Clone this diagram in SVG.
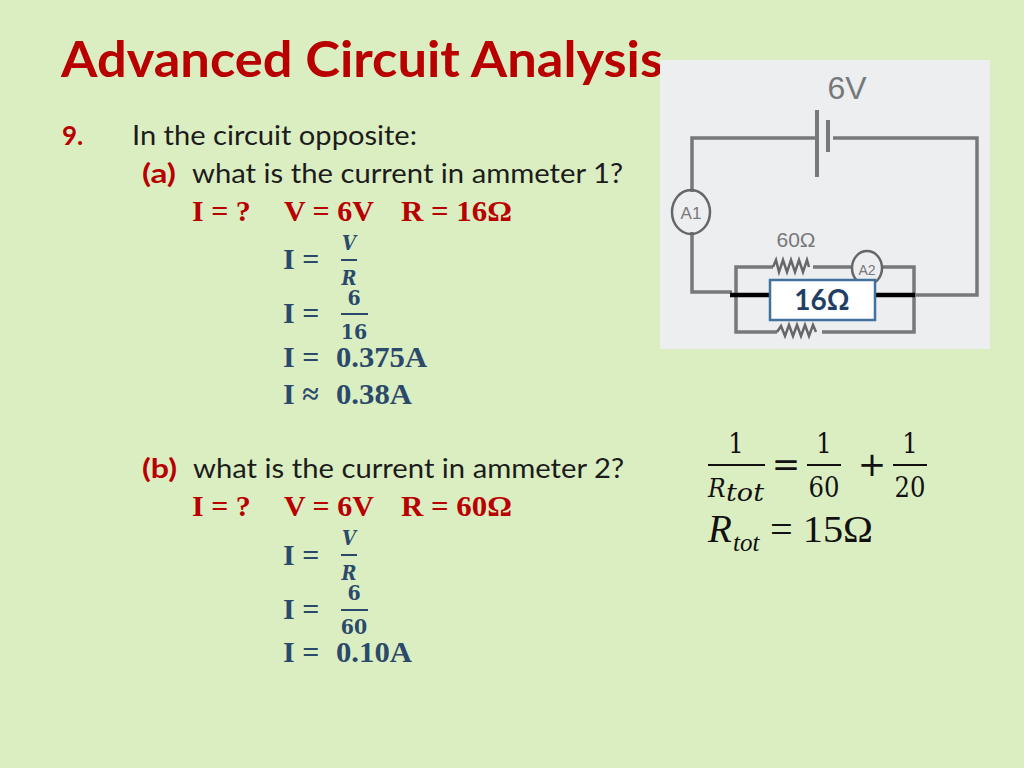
<svg xmlns="http://www.w3.org/2000/svg" width="1024" height="768" viewBox="0 0 1024 768">
<style>
.title{font:bold 49px Lato,"Liberation Sans",sans-serif;fill:#b90000}
.body{font:27px Lato,"Liberation Sans",sans-serif;fill:#1c1c1c}
.lab{font:bold 26px Lato,"Liberation Sans",sans-serif;fill:#b90000}
.red{font:bold 30px "Liberation Serif",serif;fill:#b90000}
.blue{font:bold 30px "Liberation Serif",serif;fill:#2b4a6b}
.frac{font:bold 21px "DejaVu Serif Condensed","DejaVu Serif",serif;fill:#2b4a6b;text-anchor:middle}
.fraci{font:italic bold 20px "DejaVu Serif Condensed","DejaVu Serif",serif;fill:#2b4a6b;text-anchor:middle}
.fl{stroke:#2b4a6b;stroke-width:2}
.k{fill:#111}
.m{font:27px "DejaVu Serif Condensed","DejaVu Serif",serif;text-anchor:middle}
.kl{stroke:#111;stroke-width:2}
.w{fill:none;stroke:#77787a;stroke-width:3.5}
.hand{font-family:"Liberation Sans",sans-serif;fill:#77787a;text-anchor:middle}
.ring{fill:none;stroke:#66676a;stroke-width:2.5}
</style>
<rect width="1024" height="768" fill="#dbeec2"/>
<text class="title" x="61" y="77" textLength="602" lengthAdjust="spacingAndGlyphs">Advanced Circuit Analysis</text>
<g id="question">
<text class="lab" x="62" y="145">9.</text>
<text class="body" x="132" y="145" textLength="285" lengthAdjust="spacingAndGlyphs">In the circuit opposite:</text>
<text class="lab" x="142" y="183" textLength="34" lengthAdjust="spacingAndGlyphs">(a)</text>
<text class="body" x="192" y="183" textLength="431" lengthAdjust="spacingAndGlyphs">what is the current in ammeter 1?</text>
<text class="lab" x="142" y="478" textLength="35" lengthAdjust="spacingAndGlyphs">(b)</text>
<text class="body" x="193" y="478" textLength="431" lengthAdjust="spacingAndGlyphs">what is the current in ammeter 2?</text>
</g>
<g id="part-a">
<text class="red" x="192" y="221">I = ?</text>
<text class="red" x="284" y="221">V = 6V</text>
<text class="red" x="401" y="221" textLength="111" lengthAdjust="spacingAndGlyphs">R = 16Ω</text>
<text class="blue" x="283" y="269">I =</text>
<text class="fraci" x="349" y="250">V</text><line class="fl" x1="341" y1="260" x2="357" y2="260"/><text class="fraci" x="349" y="285">R</text>
<text class="blue" x="283" y="323">I =</text>
<text class="frac" x="354" y="305">6</text><line class="fl" x1="341" y1="314" x2="368" y2="314"/><text class="frac" x="354" y="339">16</text>
<text class="blue" x="283" y="367">I =</text><text class="blue" x="336" y="367" textLength="91" lengthAdjust="spacingAndGlyphs">0.375A</text>
<text class="blue" x="283" y="404">I ≈</text><text class="blue" x="336" y="404" textLength="76" lengthAdjust="spacingAndGlyphs">0.38A</text>
</g>
<g id="part-b">
<text class="red" x="192" y="516">I = ?</text>
<text class="red" x="284" y="516">V = 6V</text>
<text class="red" x="401" y="516" textLength="111" lengthAdjust="spacingAndGlyphs">R = 60Ω</text>
<text class="blue" x="283" y="565">I =</text>
<text class="fraci" x="349" y="545">V</text><line class="fl" x1="341" y1="555" x2="357" y2="555"/><text class="fraci" x="349" y="580">R</text>
<text class="blue" x="283" y="619">I =</text>
<text class="frac" x="354" y="600">6</text><line class="fl" x1="341" y1="610" x2="368" y2="610"/><text class="frac" x="354" y="634">60</text>
<text class="blue" x="283" y="662">I =</text><text class="blue" x="336" y="662" textLength="76" lengthAdjust="spacingAndGlyphs">0.10A</text>
</g>
<g id="circuit">
<rect x="660" y="60" width="330" height="289" fill="#edeef0"/>
<g id="connectors">
<path class="w" d="M815 138H692V192M692 232V292H732M833 138H977V295H914"/>
<path class="w" d="M773 267H736V332H777M822 332H914V267H881M853 267H813"/>
<path d="M817 110V177M828 120V152" fill="none" stroke="#77787a" stroke-width="4"/>
<path d="M730 295H770M876 295H915" fill="none" stroke="#000" stroke-width="4.5"/>
<path d="M773 267l3-7 3 12 4-12 4 12 4-12 4 12 4-12 4 12 4-12 2 7M777 332l4-6 4 10 4-11 4 11 4-11 4 11 4-11 4 11 4-11 3 7" fill="none" stroke="#66676a" stroke-width="2.5"/>
</g>
<g id="ammeter-1"><ellipse class="ring" cx="691" cy="212" rx="19" ry="22"/><text class="hand" x="691" y="219" font-size="17">A1</text></g>
<g id="ammeter-2"><ellipse class="ring" cx="867" cy="268" rx="15" ry="17"/><text class="hand" x="867" y="275" font-size="14">A2</text></g>
<text class="hand" x="847" y="99" font-size="32">6V</text>
<text class="hand" x="796" y="247" font-size="21">60Ω</text>
<g id="resistor-16">
<rect x="770" y="280" width="105" height="40" fill="#fff" stroke="#41719c" stroke-width="2.5"/>
<text x="822" y="310" text-anchor="middle" style="font:bold 28px Lato,'Liberation Sans',sans-serif;fill:#1f3f66">16Ω</text>
</g>
</g>
<g id="total">
<text class="m k" x="736" y="453">1</text><line class="kl" x1="708" y1="465" x2="765" y2="465"/>
<text x="708" y="497" style="font:italic 26px 'DejaVu Serif Condensed','DejaVu Serif',serif;fill:#111">R</text><text x="726" y="501" style="font:italic 24px 'DejaVu Serif Condensed','DejaVu Serif',serif;fill:#111" textLength="38" lengthAdjust="spacingAndGlyphs">tot</text>
<text x="786" y="476" text-anchor="middle" style="font:34px 'DejaVu Sans',sans-serif;fill:#111">=</text>
<text class="m k" x="824" y="453">1</text><line class="kl" x1="807" y1="465" x2="841" y2="465"/><text class="m k" x="824" y="497">60</text>
<text x="872" y="476" text-anchor="middle" style="font:34px 'DejaVu Sans',sans-serif;fill:#111">+</text>
<text class="m k" x="910" y="453">1</text><line class="kl" x1="893" y1="465" x2="927" y2="465"/><text class="m k" x="910" y="497">20</text>
<text x="708" y="542" style="font:italic 39px 'Liberation Serif',serif;fill:#111">R</text>
<text x="733" y="551" style="font:italic 25px 'Liberation Serif',serif;fill:#111">tot</text>
<text x="770" y="542" style="font:38px 'Liberation Serif',serif;fill:#111" textLength="103" lengthAdjust="spacingAndGlyphs">= 15Ω</text>
</g>
</svg>
